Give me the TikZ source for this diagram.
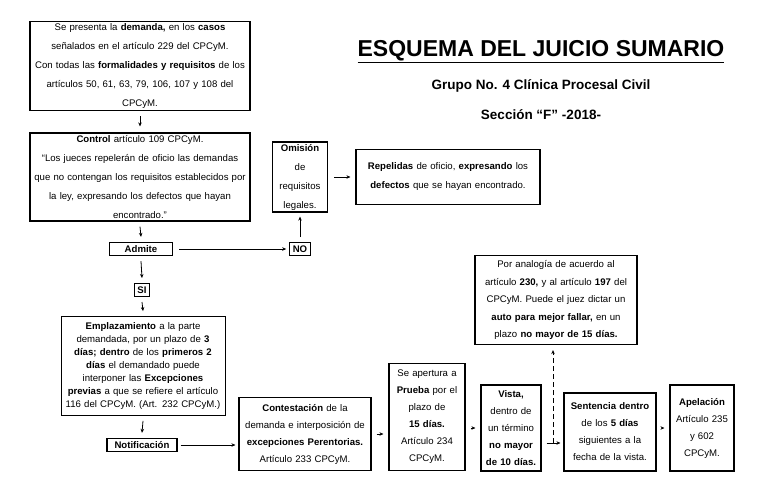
\documentclass[tikz,border=0pt]{standalone}
\usepackage{fontspec}
\setmainfont{Liberation Sans}
\usetikzlibrary{positioning,arrows.meta}

\tikzset{
	box/.style = {draw, line width=1.2pt, align=center, inner sep=2pt, font=\fontsize{9.6}{19}\selectfont},
	tight/.style = {font=\fontsize{9.6}{13}\selectfont},
	tag/.style = {draw, line width=1.2pt, font=\bfseries\fontsize{9.6}{10}\selectfont, inner sep=3pt},
	flow/.style = {-{Stealth[length=4pt,width=3.5pt]}, line width=0.8pt}
}

\begin{document}
\begin{tikzpicture}[x=1pt, y=-1pt]
	\useasboundingbox (0,0) rectangle (768,503);

	% left column
	\node[box, text width=216pt, minimum height=87pt] (dem) at (140,66)
		{Se presenta la \textbf{demanda,} en los \textbf{casos}\\ señalados en el artículo 229 del CPCyM.\\ Con todas las \textbf{formalidades y requisitos} de los\\ artículos 50, 61, 63, 79, 106, 107 y 108 del\\ CPCyM.};
	\node[box, text width=216pt, minimum height=88pt] (ctrl) at (140,177)
		{\textbf{Control} artículo 109 CPCyM.\\ ``Los jueces repelerán de oficio las demandas\\ que no contengan los requisitos establecidos por\\ la ley, expresando los defectos que hayan\\ encontrado.''};
	\node[tag, minimum width=63pt] (adm) at (141,249) {Admite};
	\node[tag] (si) at (142,290) {SI};
	\node[box, tight, line width=0.8pt, text width=160pt, minimum height=99pt] (empl) at (143,366)
		{\textbf{Emplazamiento} a la parte\\ demandada, por un plazo de \textbf{3}\\ \textbf{días; dentro} de los \textbf{primeros 2}\\ \textbf{días} el demandado puede\\ interponer las \textbf{Excepciones}\\ \textbf{previas} a que se refiere el artículo\\ 116 del CPCyM. (Art. 232 CPCyM.)};
	\node[tag, minimum width=70pt] (notif) at (142,445) {Notificación};

	% upper branch
	\node[tag] (no) at (300,249) {NO};
	\node[box, text width=51pt, minimum height=55pt] (omis) at (300,177)
		{\textbf{Omisión} de\\ requisitos\\ legales.};
	\node[box, text width=180pt, minimum height=55pt] (rep) at (448,177)
		{\textbf{Repelidas} de oficio, \textbf{expresando} los\\ \textbf{defectos} que se hayan encontrado.};

	% title
	\node[font=\bfseries\fontsize{23}{25}\selectfont] (title) at (541,52) {\underline{ESQUEMA DEL JUICIO SUMARIO}};
	\node[font=\bfseries\fontsize{13.5}{15}\selectfont] (grupo) at (541,86) {Grupo No. 4 Clínica Procesal Civil};
	\node[font=\bfseries\fontsize{13.5}{15}\selectfont] (secc) at (541,115) {Sección “F” -2018-};

	% bottom row
	\node[box, text width=128pt, minimum height=73pt, font=\fontsize{9.6}{17}\selectfont] (cont) at (305,434)
		{\textbf{Contestación} de la\\ demanda e interposición de\\ \textbf{excepciones Perentorias.}\\ Artículo 233 CPCyM.};
	\node[box, text width=72pt, minimum height=107pt, font=\fontsize{9.6}{17}\selectfont] (prue) at (427,417)
		{Se apertura a\\ \textbf{Prueba} por el\\ plazo de\\ \textbf{15 días.}\\ Artículo 234\\ CPCyM.};
	\node[box, text width=56pt, minimum height=86pt, font=\fontsize{9.6}{17}\selectfont] (vista) at (511,428)
		{\textbf{Vista,}\\ dentro de\\ un término\\ \textbf{no mayor}\\ \textbf{de 10 días.}};
	\node[box, text width=88pt, minimum height=78pt, font=\fontsize{9.6}{17}\selectfont] (sent) at (610,432)
		{\textbf{Sentencia dentro}\\ de los \textbf{5 días}\\ siguientes a la\\ fecha de la vista.};
	\node[box, text width=60pt, minimum height=86pt, font=\fontsize{9.6}{17}\selectfont] (apel) at (702,428)
		{\textbf{Apelación}\\ Artículo 235\\ y 602\\ CPCyM.};
	\node[box, text width=158pt, minimum height=89pt, font=\fontsize{9.6}{17.5}\selectfont] (anal) at (556,300)
		{Por analogía de acuerdo al\\ artículo \textbf{230,} y al artículo \textbf{197} del\\ CPCyM. Puede el juez dictar un\\ \textbf{auto para mejor fallar,} en un\\ plazo \textbf{no mayor de 15 días.}};
	\coordinate (dash) at (553,443);

	% edges
	\draw[flow] ([yshift=-5pt]dem.south) -- ([yshift=6pt]ctrl.north);
	\draw[flow] ([yshift=-5pt]ctrl.south) -- ([yshift=5pt]adm.north);
	\draw[flow] ([yshift=-5pt]adm.south) -- ([yshift=5pt]si.north);
	\draw[flow] ([yshift=-5pt]si.south) -- ([yshift=5pt]empl.north);
	\draw[flow] ([yshift=-5pt]empl.south) -- ([yshift=5pt]notif.north);
	\draw[flow] ([xshift=6pt]adm.east) -- ([xshift=-3pt]no.west);
	\draw[flow] ([yshift=5pt]no.north) -- ([yshift=-4pt]omis.south);
	\draw[flow] ([xshift=6pt]omis.east) -- ([xshift=-5pt]rep.west);
	\draw[flow] ([xshift=3pt]notif.east) -- ([xshift=-3pt]cont.west |- notif.east);
	\draw[flow] ([xshift=5pt]cont.east) -- ([xshift=-5pt]prue.west |- cont.east);
	\draw[flow] ([xshift=5pt]prue.east |- vista.east) -- ([xshift=-5pt]vista.west);
	\draw[flow] ([xshift=5pt]vista.east |- dash) -- ([xshift=-3pt]sent.west |- dash);
	\draw[flow, dashed, dash pattern=on 5pt off 3pt] (dash) -- ([yshift=-5pt]anal.south -| dash);
	\draw[flow] ([xshift=5pt]sent.east |- apel.east) -- ([xshift=-5pt]apel.west);
\end{tikzpicture}
\end{document}
